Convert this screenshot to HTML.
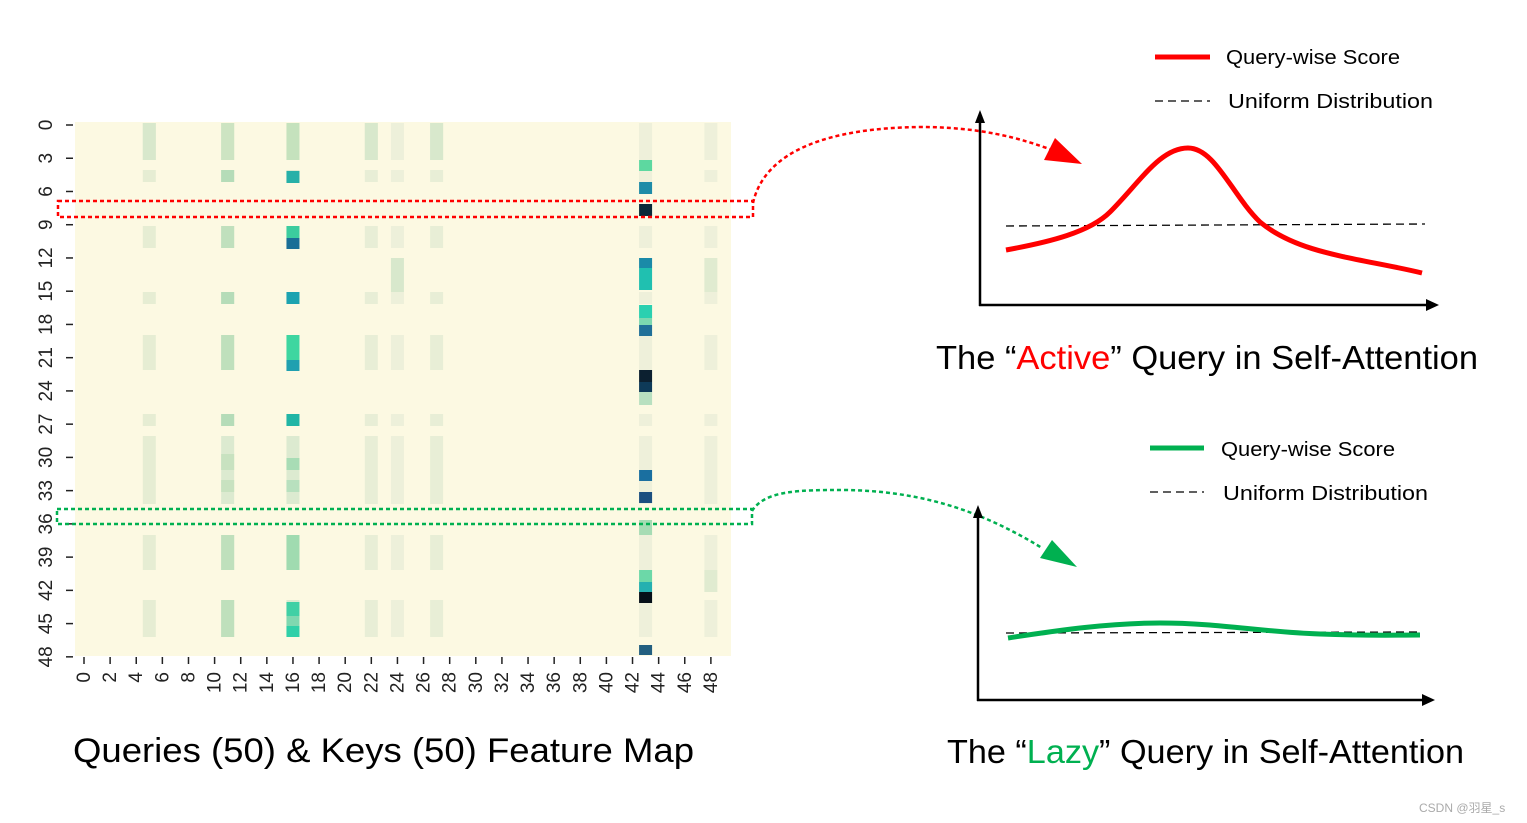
<!DOCTYPE html>
<html><head><meta charset="utf-8"><style>
html,body{margin:0;padding:0;background:#fff;}
svg{display:block;}
text{font-family:"Liberation Sans",sans-serif;}
</style></head><body>
<svg id="s" width="1527" height="823" viewBox="0 0 1527 823" xmlns="http://www.w3.org/2000/svg">
<rect x="0" y="0" width="1527" height="823" fill="#fff"/>
<rect x="75" y="122" width="656" height="534" fill="#fcf9e2"/>
<g id="hm"></g>
<g id="ticks" stroke="#222" stroke-width="1.5"></g>
<g id="lbl" font-size="19" fill="#222"></g>
<!-- boxes -->
<rect x="58" y="201" width="695" height="16" fill="none" stroke="#f00" stroke-width="2.5" stroke-dasharray="4,3"/>
<rect x="57" y="509" width="695" height="15" fill="none" stroke="#00b050" stroke-width="2.5" stroke-dasharray="4,3"/>
<!-- arrows -->
<path d="M753 203 C765 150 830 128 920 127 C980 127 1020 138 1052 150" fill="none" stroke="#f00" stroke-width="2.5" stroke-dasharray="4,3"/>
<polygon points="1082,164 1044,160 1055,138" fill="#f00"/>
<path d="M752 511 C765 490 800 490 845 490 C920 491 980 510 1042 548" fill="none" stroke="#00b050" stroke-width="2.5" stroke-dasharray="4,3"/>
<polygon points="1077,567 1040,558 1052,540" fill="#00b050"/>
<!-- top chart -->
<line x1="980" y1="120" x2="980" y2="306" stroke="#000" stroke-width="2.5"/>
<polygon points="980,110 975,123 985,123" fill="#000"/>
<line x1="979" y1="305" x2="1428" y2="305" stroke="#000" stroke-width="2.5"/>
<polygon points="1439,305 1426,299 1426,311" fill="#000"/>
<line x1="1006" y1="226" x2="1425" y2="224" stroke="#000" stroke-width="1.3" stroke-dasharray="8,5"/>
<path d="M1006 250 C1050 242 1090 232 1110 212 C1140 182 1160 148 1188 148 C1215 148 1232 195 1260 222 C1300 255 1360 258 1422 273" fill="none" stroke="#f00" stroke-width="5"/>
<line x1="1155" y1="57" x2="1210" y2="57" stroke="#f00" stroke-width="5"/>
<line x1="1155" y1="101" x2="1210" y2="101" stroke="#000" stroke-width="1.3" stroke-dasharray="8,5"/>
<text x="1226" y="64" font-size="20" textLength="174" lengthAdjust="spacingAndGlyphs">Query-wise Score</text>
<text x="1228" y="108" font-size="20" textLength="205" lengthAdjust="spacingAndGlyphs">Uniform Distribution</text>
<text x="936" y="369" font-size="33" textLength="542" lengthAdjust="spacingAndGlyphs">The “<tspan fill="#f00">Active</tspan>” Query in Self-Attention</text>
<!-- bottom chart -->
<line x1="978" y1="515" x2="978" y2="701" stroke="#000" stroke-width="2.5"/>
<polygon points="978,505 973,518 983,518" fill="#000"/>
<line x1="977" y1="700" x2="1424" y2="700" stroke="#000" stroke-width="2.5"/>
<polygon points="1435,700 1422,694 1422,706" fill="#000"/>
<line x1="1006" y1="633" x2="1422" y2="632" stroke="#000" stroke-width="1.3" stroke-dasharray="8,5"/>
<path d="M1008 638 C1060 630 1110 623 1160 623 C1220 623 1260 632 1320 634 C1370 636 1400 635 1420 635" fill="none" stroke="#00b050" stroke-width="5"/>
<line x1="1150" y1="448" x2="1204" y2="448" stroke="#00b050" stroke-width="5"/>
<line x1="1150" y1="492" x2="1204" y2="492" stroke="#000" stroke-width="1.3" stroke-dasharray="8,5"/>
<text x="1221" y="456" font-size="20" textLength="174" lengthAdjust="spacingAndGlyphs">Query-wise Score</text>
<text x="1223" y="500" font-size="20" textLength="205" lengthAdjust="spacingAndGlyphs">Uniform Distribution</text>
<text x="947" y="763" font-size="33" textLength="517" lengthAdjust="spacingAndGlyphs">The “<tspan fill="#00b050">Lazy</tspan>” Query in Self-Attention</text>
<text x="73" y="762" font-size="34" textLength="621" lengthAdjust="spacingAndGlyphs">Queries (50) &amp; Keys (50) Feature Map</text>
<text x="1419" y="812" font-size="12" fill="#aaa" style="font-family:'Liberation Sans','Noto Sans CJK SC',sans-serif">CSDN @羽星_s</text>
</svg>
<script>
var NS="http://www.w3.org/2000/svg";
function el(p,t,a,txt){var e=document.createElementNS(NS,t);for(var k in a)e.setAttribute(k,a[k]);if(txt!==undefined)e.textContent=txt;document.getElementById(p).appendChild(e);}
function cx(c){return 84+c*13.06;}
// faint stripes
[[5,"#e6edd3"],[11,"#dcead0"],[16,"#dcead0"],[22,"#e8eed6"],[24,"#edf0da"],[27,"#e8eed6"],[43,"#eef0da"],[48,"#eef0da"]].forEach(function(s){
 [[123,160],[170,182],[226,248],[292,304],[335,370],[414,426],[436,504],[535,570],[600,637]].forEach(function(r){
  el("hm","rect",{x:cx(s[0])-6.5,y:r[0],width:13,height:r[1]-r[0],fill:s[1]});});
});
var segs=[
[11,123,160,"#cde4c2"],[11,170,182,"#b5dcb8"],[11,226,248,"#c0e0bd"],[11,292,304,"#b5dcb8"],[11,335,370,"#bfe0bc"],[11,414,426,"#b5dcb8"],[11,454,470,"#c8e2c0"],[11,480,492,"#c8e2c0"],[11,535,570,"#bfe0bc"],[11,600,637,"#bfe0bc"],
[16,123,160,"#c5e2bd"],[16,171,183,"#26b0a8"],[16,226,238,"#3ccc9e"],[16,238,249,"#1a6e96"],[16,292,304,"#1ca3b0"],[16,335,360,"#3ed6a0"],[16,360,371,"#20a0b0"],[16,414,426,"#21b5a5"],[16,458,470,"#a8dcb5"],[16,480,492,"#b8e0be"],[16,535,570,"#a0dbb0"],[16,602,616,"#40d0a5"],[16,616,626,"#7fd8b0"],[16,626,637,"#30d0a8"],
[43,160,171,"#5dd8a0"],[43,182,194,"#1e8ca8"],[43,204,216,"#0a2a3a"],[43,258,268,"#1a8aa8"],[43,268,290,"#20c0b0"],[43,305,318,"#2ad0b0"],[43,318,325,"#7cd8b0"],[43,325,336,"#1f6f98"],[43,370,382,"#0c2030"],[43,382,392,"#0e3a58"],[43,392,405,"#b8e0c0"],[43,470,481,"#1a6fa0"],[43,492,503,"#1b4f80"],[43,520,535,"#a6dcb4"],[43,570,582,"#6cd8a8"],[43,582,592,"#25b0b0"],[43,592,603,"#050f18"],[43,645,655,"#235f80"],
[5,123,160,"#d8e8cc"],[22,123,160,"#d8e8cc"],[27,123,160,"#d8e8cc"],[24,258,292,"#d8e8cc"],[48,258,292,"#e0ebd0"],[48,570,592,"#e0ebd0"]];
segs.forEach(function(s){el("hm","rect",{x:cx(s[0])-6.5,y:s[1],width:13,height:s[2]-s[1],fill:s[3]});});
// ticks & labels
for(var c=0;c<=48;c+=2){var x=cx(c);el("ticks","line",{x1:x,y1:657,x2:x,y2:664});
 el("lbl","text",{transform:"translate("+(x+6)+",672) rotate(-90)","text-anchor":"end"},String(c));}
for(var r=0;r<=48;r+=3){var y=125+r*11.08;el("ticks","line",{x1:66,y1:y,x2:73,y2:y});
 el("lbl","text",{transform:"translate(52,"+y+") rotate(-90)","text-anchor":"middle"},String(r));}
</script>
</body></html>
